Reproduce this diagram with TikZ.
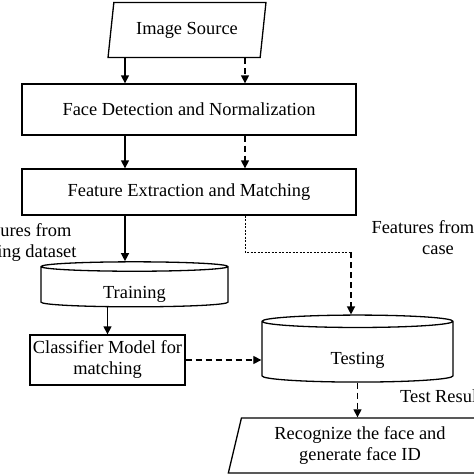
\documentclass[tikz,border=0pt]{standalone}
\usepackage{fontspec}
\setmainfont{Liberation Serif}
\usetikzlibrary{shapes.geometric,arrows.meta}

\tikzset{
	every node/.style={font=\fontsize{18.4}{21}\selectfont, inner sep=0pt},
	box/.style={draw, line width=1.3pt, rectangle, align=center},
	iobox/.style={draw, line width=1.3pt, trapezium, trapezium left angle=76, trapezium right angle=104, trapezium stretches=true, align=center},
	store/.style={draw, line width=1.3pt, cylinder, shape border rotate=90, text depth=0pt},
	flow/.style={line width=1.3pt, -{Triangle[length=8pt,width=8pt]}},
	dflow/.style={flow, dash pattern=on 6pt off 4pt},
	dotline/.style={line width=0.7pt, dash pattern=on 2pt off 1.5pt},
}

\begin{document}
\begin{tikzpicture}[x=1pt,y=-1pt]
	
	\useasboundingbox (0,0) rectangle (474,474);
	
	\node[iobox, minimum width=158pt, minimum height=55pt] (src) at (187,30) {Image Source};
	\node[box, minimum width=334pt, minimum height=51pt] (det) at (189,109.5) {Face Detection and Normalization};
	\node[box, minimum width=334pt, minimum height=46pt] (fea) at (189,192) {Feature Extraction and Matching};
	\node[store, minimum width=187pt, minimum height=45pt, aspect=0.15, text height=22.6pt] (train) at (134.5,287) {Training};
	\node[box, minimum width=155pt, minimum height=50pt] (cls) at (107.5,360) {Classifier Model for\\matching};
	\node[store, minimum width=191pt, minimum height=67pt, aspect=0.23, text height=24.6pt] (test) at (357.5,352) {Testing};
	\node[iobox, minimum width=264pt, minimum height=55pt] (out) at (360,445.5) {Recognize the face and\\generate face ID};
	
	\node[align=center] (trainlbl) at (20,243) {Features from\\training dataset};
	\node[align=center] (testlbl) at (438,238) {Features from test\\case};
	\node[anchor=west] (reslbl) at (400,396) {Test Results};
	
	\coordinate (lcol) at (125,0);
	\coordinate (rcol) at (245,0);
	\coordinate (turn) at (351,252);
	
	\draw[flow] (src.south -| lcol) -- (det.north -| lcol);
	\draw[dflow] (src.south -| rcol) -- (det.north -| rcol);
	\draw[flow] (det.south -| lcol) -- (fea.north -| lcol);
	\draw[dflow] (det.south -| rcol) -- (fea.north -| rcol);
	\draw[flow] (fea.south -| lcol) -- (train.north -| lcol);
	\draw[dotline] (fea.south -| rcol) |- (turn);
	\draw[dflow] (turn) -- (test.north -| turn);
	\draw[flow] (train.south -| cls.north) -- (cls.north);
	\draw[dflow] (cls.east) -- (test.west |- cls.east);
	\draw[dflow] (test.south) -- (out.north -| test.south);
	
\end{tikzpicture}
\end{document}
